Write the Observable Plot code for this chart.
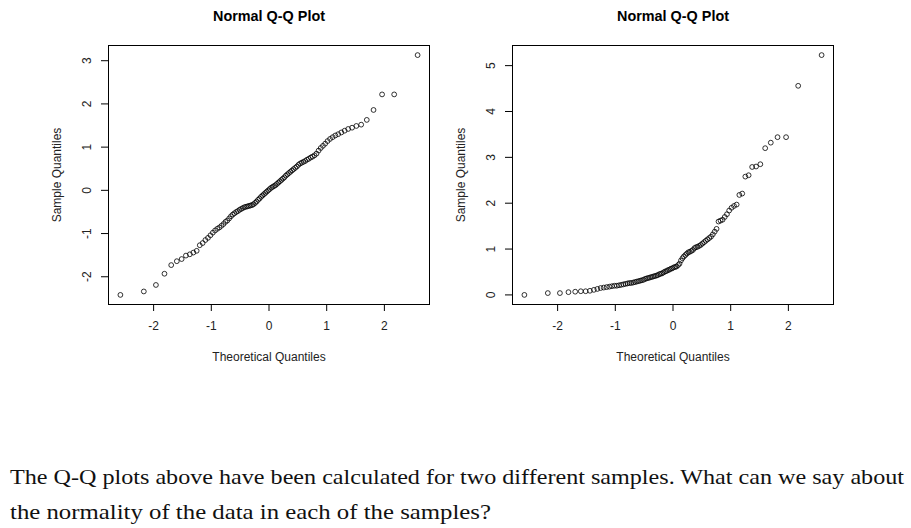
<!DOCTYPE html>
<html>
<head>
<meta charset="utf-8">
<script src="https://cdn.jsdelivr.net/npm/d3@7"></script>
<script src="https://cdn.jsdelivr.net/npm/@observablehq/plot@0.6"></script>
<style>
  html, body { margin: 0; padding: 0; background: #fff; }
  #wrap { position: relative; width: 911px; height: 528px; overflow: hidden; background: #fff; }
  .panel { position: absolute; top: 0; }
  #cap { position: absolute; left: 0; top: 440px; }
</style>
</head>
<body>
<div id="wrap">
  <div id="p1" class="panel" style="left:0px"></div>
  <div id="p2" class="panel" style="left:404px"></div>
  <svg id="cap" width="911" height="88"></svg>
</div>
<script>
// Theoretical normal quantiles (x positions of the 100 points)
const theoretical = [-2.576,-2.170,-1.960,-1.812,-1.695,-1.598,-1.514,-1.440,-1.372,-1.311,
  -1.254,-1.200,-1.150,-1.103,-1.058,-1.015,-0.974,-0.935,-0.897,-0.860,
  -0.824,-0.789,-0.755,-0.723,-0.690,-0.659,-0.628,-0.598,-0.568,-0.539,
  -0.510,-0.482,-0.454,-0.426,-0.399,-0.372,-0.345,-0.319,-0.292,-0.266,
  -0.240,-0.215,-0.189,-0.164,-0.138,-0.113,-0.088,-0.063,-0.038,-0.013,
  0.013,0.038,0.063,0.088,0.113,0.138,0.164,0.189,0.215,0.240,
  0.266,0.292,0.319,0.345,0.372,0.399,0.426,0.454,0.482,0.510,
  0.539,0.568,0.598,0.628,0.659,0.690,0.723,0.755,0.789,0.824,
  0.860,0.897,0.935,0.974,1.015,1.058,1.103,1.150,1.200,1.254,
  1.311,1.372,1.440,1.514,1.598,1.695,1.812,1.960,2.170,2.576];

// Sample quantiles, left plot (approximately normal)
const sampleA = [-2.42,-2.34,-2.19,-1.93,-1.73,-1.64,-1.59,-1.51,-1.48,-1.44,
  -1.40,-1.27,-1.22,-1.15,-1.10,-1.04,-0.98,-0.93,-0.89,-0.86,
  -0.82,-0.78,-0.73,-0.70,-0.65,-0.60,-0.56,-0.53,-0.50,-0.48,
  -0.45,-0.43,-0.41,-0.39,-0.38,-0.37,-0.36,-0.35,-0.34,-0.32,
  -0.29,-0.26,-0.22,-0.19,-0.15,-0.12,-0.09,-0.06,-0.03,0.00,
  0.03,0.06,0.08,0.10,0.12,0.15,0.18,0.21,0.24,0.27,
  0.30,0.34,0.37,0.40,0.43,0.46,0.49,0.52,0.55,0.59,
  0.62,0.64,0.66,0.68,0.71,0.73,0.76,0.78,0.81,0.85,
  0.92,0.98,1.03,1.08,1.14,1.19,1.23,1.27,1.30,1.34,
  1.38,1.42,1.45,1.49,1.52,1.63,1.86,2.22,2.22,3.13];

// Sample quantiles, right plot (right-skewed)
const sampleB = [0.00,0.04,0.04,0.06,0.07,0.08,0.08,0.09,0.11,0.13,
  0.15,0.16,0.17,0.18,0.19,0.20,0.20,0.21,0.22,0.23,
  0.24,0.25,0.26,0.26,0.27,0.28,0.29,0.30,0.31,0.32,
  0.33,0.35,0.36,0.37,0.38,0.39,0.40,0.41,0.42,0.43,
  0.45,0.46,0.47,0.49,0.51,0.52,0.54,0.55,0.57,0.58,
  0.60,0.61,0.62,0.65,0.68,0.75,0.80,0.84,0.87,0.90,
  0.93,0.94,0.96,0.98,1.02,1.04,1.05,1.07,1.09,1.12,
  1.15,1.18,1.21,1.24,1.27,1.32,1.38,1.44,1.60,1.62,
  1.64,1.70,1.76,1.84,1.90,1.94,1.97,2.18,2.21,2.58,
  2.61,2.79,2.80,2.85,3.20,3.32,3.44,3.44,4.56,5.23];

const xTicks = [-2, -1, 0, 1, 2];
const yTicksA = [-2, -1, 0, 1, 2, 3];
const yTicksB = [0, 1, 2, 3, 4, 5];
const plotTitle = "Normal Q-Q Plot";
const xLabel = "Theoretical Quantiles";
const yLabel = "Sample Quantiles";
const captionLines = [
  "The Q-Q plots above have been calculated for two different samples. What can we say about",
  "the normality of the data in each of the samples?"
];

function pad(lo, hi) { const d = (hi - lo) * 0.04; return [lo - d, hi + d]; }

function qqPlot(sample, yTicks) {
  const data = theoretical.map((t, i) => ({t, s: sample[i]}));
  return Plot.plot({
    width: 455, height: 380,
    marginLeft: 108, marginRight: 26, marginTop: 45, marginBottom: 76,
    style: {fontFamily: "'Liberation Sans', Arial, sans-serif", fontSize: "12px", color: "#222", background: "transparent", overflow: "visible"},
    x: {domain: pad(d3.min(theoretical), d3.max(theoretical))},
    y: {domain: pad(d3.min(sample), d3.max(sample))},
    marks: [
      Plot.axisX(xTicks, {tickSize: 7, tickPadding: 10, tickFormat: d => String(d), label: null, stroke: "#000", fill: "#222"}),
      Plot.axisY(yTicks, {tickSize: 7, tickFormat: () => "", label: null, stroke: "#000"}),
      Plot.text(yTicks, {y: d => d, frameAnchor: "left", dx: -21, rotate: -90, text: d => String(d),
        textAnchor: "middle", lineAnchor: "middle", fontSize: 12, fill: "#222"}),
      Plot.frame({stroke: "#000", strokeWidth: 1}),
      Plot.dot(data, {x: "t", y: "s", r: 2.4, stroke: "#000", strokeWidth: 0.8, fill: "none"}),
      Plot.text([plotTitle], {frameAnchor: "top", dy: -29, text: d => d, fontSize: 14.4, fontWeight: "bold",
        lineAnchor: "middle", fill: "#000"}),
      Plot.text([xLabel], {frameAnchor: "bottom", dy: 53, text: d => d, fontSize: 12, lineAnchor: "middle", fill: "#222"}),
      Plot.text([yLabel], {frameAnchor: "left", dx: -51, rotate: -90, text: d => d, fontSize: 12,
        textAnchor: "middle", lineAnchor: "middle", fill: "#222"})
    ]
  });
}

document.getElementById("p1").appendChild(qqPlot(sampleA, yTicksA));
document.getElementById("p2").appendChild(qqPlot(sampleB, yTicksB));

// Caption below the plots
const cap = d3.select("#cap");
const capWidths = [894, 481];
const capBase = [44, 79];
captionLines.forEach((line, i) => {
  cap.append("text")
    .attr("x", 10).attr("y", capBase[i])
    .attr("font-family", "'Liberation Serif', 'Times New Roman', serif")
    .attr("font-size", 22)
    .attr("fill", "#111")
    .attr("textLength", capWidths[i])
    .attr("lengthAdjust", "spacingAndGlyphs")
    .text(line);
});
</script>
</body>
</html>
